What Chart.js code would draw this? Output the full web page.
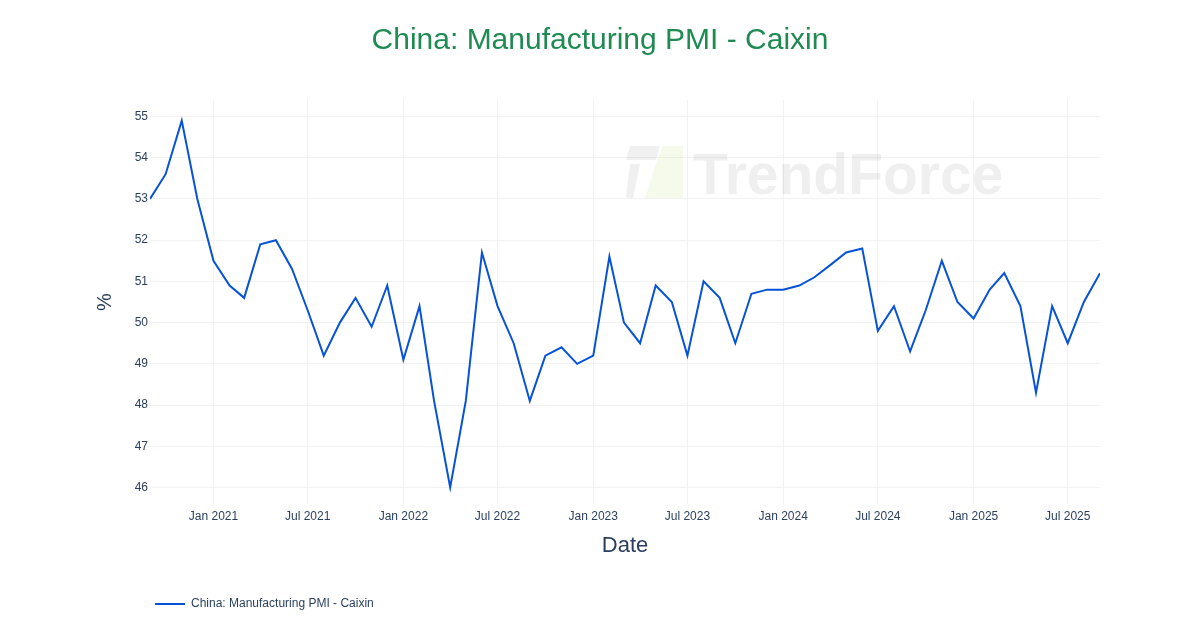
<!DOCTYPE html>
<html>
<head>
<meta charset="utf-8">
<script src="https://cdn.jsdelivr.net/npm/chart.js@4.4.1/dist/chart.umd.min.js"></script>
<style>
  html, body { margin: 0; padding: 0; background: #fff; }
  #wrap { width: 1200px; height: 630px; position: relative; }
</style>
</head>
<body>
<div id="wrap"><canvas id="pmi" width="1200" height="630"></canvas></div>
<script>
// monthly readings, Sep 2020 .. Sep 2025
const months = [
  '2020-09','2020-10','2020-11','2020-12',
  '2021-01','2021-02','2021-03','2021-04','2021-05','2021-06','2021-07','2021-08','2021-09','2021-10','2021-11','2021-12',
  '2022-01','2022-02','2022-03','2022-04','2022-05','2022-06','2022-07','2022-08','2022-09','2022-10','2022-11','2022-12',
  '2023-01','2023-02','2023-03','2023-04','2023-05','2023-06','2023-07','2023-08','2023-09','2023-10','2023-11','2023-12',
  '2024-01','2024-02','2024-03','2024-04','2024-05','2024-06','2024-07','2024-08','2024-09','2024-10','2024-11','2024-12',
  '2025-01','2025-02','2025-03','2025-04','2025-05','2025-06','2025-07','2025-08','2025-09'
]
const pmi = [
  53.0, 53.6, 54.9, 53.0,
  51.5, 50.9, 50.6, 51.9, 52.0, 51.3, 50.3, 49.2, 50.0, 50.6, 49.9, 50.9,
  49.1, 50.4, 48.1, 46.0, 48.1, 51.7, 50.4, 49.5, 48.1, 49.2, 49.4, 49.0,
  49.2, 51.6, 50.0, 49.5, 50.9, 50.5, 49.2, 51.0, 50.6, 49.5, 50.7, 50.8,
  50.8, 50.9, 51.1, 51.4, 51.7, 51.8, 49.8, 50.4, 49.3, 50.3, 51.5, 50.5,
  50.1, 50.8, 51.2, 50.4, 48.3, 50.4, 49.5, 50.5, 51.2
]
const xTickMonths = ['2021-01','2021-07','2022-01','2022-07','2023-01','2023-07','2024-01','2024-07','2025-01','2025-07']
const xTickLabels = ['Jan 2021','Jul 2021','Jan 2022','Jul 2022','Jan 2023','Jul 2023','Jan 2024','Jul 2024','Jan 2025','Jul 2025']
const yTicks = [46, 47, 48, 49, 50, 51, 52, 53, 54, 55]

const seriesName = 'China: Manufacturing PMI - Caixin'
const textColor = '#2a3f5f'
const gridColor = '#f2f2f2'
const font = '"Liberation Sans", Arial, sans-serif'

function toTime(m) {
    const p = m.split('-')
    return Date.UTC(+p[0], +p[1] - 1, 1)
}

const points = months.map((m, i) => ({ x: toTime(m), y: pmi[i] }))
const xTicks = xTickMonths.map(toTime)

// faint logo behind the plot
const watermark = {
    id: 'watermark',
    beforeDatasetsDraw(chart) {
        const ctx = chart.ctx
        ctx.save()
        ctx.fillStyle = 'rgba(120,120,120,0.11)'
        ctx.beginPath()
        ctx.moveTo(630, 146); ctx.lineTo(660, 146); ctx.lineTo(656, 160); ctx.lineTo(626, 160)
        ctx.closePath(); ctx.fill()
        ctx.beginPath()
        ctx.moveTo(630, 164); ctx.lineTo(640, 164); ctx.lineTo(633, 198); ctx.lineTo(626, 198)
        ctx.closePath(); ctx.fill()
        ctx.fillStyle = 'rgba(170,210,90,0.12)'
        ctx.beginPath()
        ctx.moveTo(662, 146); ctx.lineTo(683, 146); ctx.lineTo(683, 198); ctx.lineTo(645, 198)
        ctx.closePath(); ctx.fill()
        ctx.fillStyle = 'rgba(120,120,120,0.12)'
        ctx.font = 'bold 57px ' + font
        ctx.textBaseline = 'alphabetic'
        ctx.fillText('TrendForce', 693, 194)
        ctx.restore()
    }
}

new Chart(document.getElementById('pmi'), {
    type: 'line',
    data: {
        datasets: [{
            label: seriesName,
            data: points,
            borderColor: '#0652d8',
            backgroundColor: '#0652d8',
            borderWidth: 2,
            pointRadius: 0,
            tension: 0
        }]
    },
    options: {
        responsive: false,
        animation: false,
        devicePixelRatio: 1,
        layout: { padding: { left: 0, right: 0, top: 0, bottom: 10 } },
        plugins: {
            title: {
                display: true,
                text: seriesName,
                color: '#1f8a52',
                font: { family: font, size: 30, weight: 'normal' },
                padding: { top: 23, bottom: 41 }
            },
            legend: {
                position: 'bottom',
                align: 'start',
                fullSize: false,
                labels: {
                    usePointStyle: true,
                    pointStyle: 'line',
                    pointStyleWidth: 30,
                    padding: 5,
                    color: textColor,
                    font: { family: font, size: 12 }
                }
            },
            tooltip: { enabled: false }
        },
        scales: {
            x: {
                type: 'linear',
                min: toTime(months[0]),
                max: toTime(months[months.length - 1]),
                afterBuildTicks: s => { s.ticks = xTicks.map(v => ({ value: v })) },
                afterFit: s => { s.height = 89 },
                grid: { color: gridColor, drawTicks: false },
                border: { display: false },
                ticks: {
                    color: textColor,
                    font: { family: font, size: 12 },
                    padding: 5,
                    maxRotation: 0,
                    autoSkip: false,
                    callback: v => xTickLabels[xTicks.indexOf(v)]
                },
                title: {
                    display: true,
                    text: 'Date',
                    color: textColor,
                    font: { family: font, size: 22 },
                    padding: { top: 0, bottom: 34 }
                }
            },
            y: {
                min: 45.6,
                max: 55.4,
                afterBuildTicks: s => { s.ticks = yTicks.map(v => ({ value: v })) },
                afterFit: s => { s.width = 150 },
                grid: { color: gridColor, drawTicks: false },
                border: { display: false },
                ticks: {
                    color: textColor,
                    font: { family: font, size: 12 },
                    padding: 2
                },
                title: {
                    display: true,
                    text: '%',
                    color: textColor,
                    font: { family: font, size: 20 },
                    padding: { top: 93, bottom: 0 }
                }
            },
            // empty right margin so the plot ends at x=1100 while the title stays centred on the page
            margin: {
                position: 'right',
                min: 0,
                max: 1,
                afterFit: s => { s.width = 100 },
                grid: { display: false },
                border: { display: false },
                ticks: { display: false }
            }
        }
    },
    plugins: [watermark]
})
</script>
</body>
</html>
